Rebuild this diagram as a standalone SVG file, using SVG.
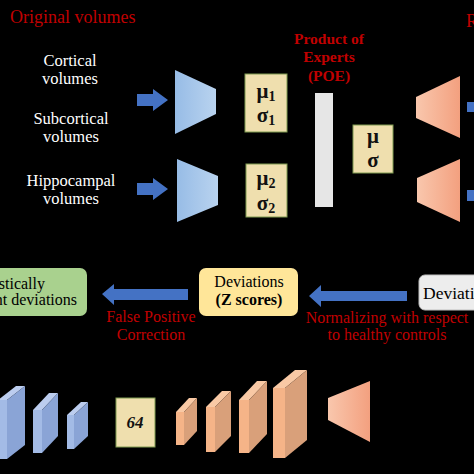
<svg xmlns="http://www.w3.org/2000/svg" width="474" height="474" viewBox="0 0 474 474">
<defs>
<linearGradient id="gBlue" x1="0" y1="0" x2="1" y2="0"><stop offset="0" stop-color="#97bce6"/><stop offset="1" stop-color="#b9d3ef"/></linearGradient>
<linearGradient id="gOr" x1="0" y1="0" x2="1" y2="0"><stop offset="0" stop-color="#f9c7ad"/><stop offset="1" stop-color="#f3a07f"/></linearGradient>
<style>
text{font-family:"Liberation Serif","Times New Roman",serif;}
.w{fill:#ffffff;font-size:16.5px;text-anchor:middle;}
.r{fill:#c00000;font-size:16px;text-anchor:middle;}
.rb{fill:#c00000;font-size:15.5px;font-weight:bold;text-anchor:middle;}
.k{fill:#000000;font-size:16px;text-anchor:middle;}
.mu{fill:#111111;font-size:21px;font-weight:bold;text-anchor:middle;}
.sub{font-size:14px;}
.box{fill:#efdfae;stroke:#7f9a50;stroke-width:1;}
.arr{fill:#4472c4;}
.bf{fill:#a3bbe6;}.bs{fill:#8aa4d6;}.bt{fill:#bccdef;}
.of{fill:#f5b488;}.os{fill:#d9a07a;}.ot{fill:#f9c9a5;}
</style>
</defs>
<rect x="0" y="0" width="474" height="474" fill="#000000"/>

<g id="labels">
<text x="10" y="23" fill="#c00000" style="font-size:18px">Original volumes</text>
<text x="466" y="27" fill="#c00000" style="font-size:18px">R</text>
</g>

<g id="cortical"><text class="w" x="70" y="66">Cortical</text><text class="w" x="70" y="84">volumes</text></g>
<g id="subcortical"><text class="w" x="71" y="124">Subcortical</text><text class="w" x="71" y="142">volumes</text></g>
<g id="hippocampal"><text class="w" x="71" y="186">Hippocampal</text><text class="w" x="71" y="204">volumes</text></g>

<g id="encoder1"><polygon points="175,70 216,89 216,114 175,134" fill="url(#gBlue)"/></g>
<g id="encoder2"><polygon points="177,159 218,176 218,205 177,222" fill="url(#gBlue)"/></g>

<g id="mu1"><rect class="box" x="245" y="74" width="42" height="58"/>
<text class="mu" x="266" y="98">μ<tspan class="sub" dy="3">1</tspan></text>
<text class="mu" x="266" y="122">σ<tspan class="sub" dy="3">1</tspan></text></g>
<g id="mu2"><rect class="box" x="246" y="164" width="41" height="53"/>
<text class="mu" x="266" y="185">μ<tspan class="sub" dy="3">2</tspan></text>
<text class="mu" x="266" y="210">σ<tspan class="sub" dy="3">2</tspan></text></g>

<g id="poe"><text class="rb" x="329" y="44">Product of</text><text class="rb" x="329" y="62">Experts</text><text class="rb" x="329" y="81">(POE)</text>
<rect x="315" y="93" width="18" height="114" fill="#e6e6e6"/></g>

<g id="mu"><rect class="box" x="353" y="125" width="40" height="48"/>
<text class="mu" x="373" y="143">μ</text><text class="mu" x="373" y="167">σ</text></g>

<g id="decoder1"><polygon points="416,97 460,76 460,138 416,118" fill="url(#gOr)"/></g>
<g id="decoder2"><polygon points="417,178 460,159 460,222 417,202" fill="url(#gOr)"/></g>

<g id="significant"><rect x="-20" y="268" width="107" height="48" rx="7" fill="#a9d18e"/>
<text x="45" y="289" style="fill:#000;font-size:16px;text-anchor:end">Statistically</text>
<text x="77" y="305" style="fill:#000;font-size:16px;text-anchor:end">significant deviations</text></g>

<g id="zscores"><rect x="199" y="268" width="99" height="48" rx="7" fill="#ffe699"/>
<text class="k" x="249" y="287">Deviations</text>
<text class="k" x="249" y="305" style="font-weight:bold">(Z scores)</text></g>

<g id="deviations"><rect x="419" y="275" width="70" height="35" rx="6" fill="#ededed" stroke="#bfbfbf" stroke-width="1"/>
<text x="423" y="299" style="fill:#000;font-size:17.5px">Deviations</text></g>

<g id="fpc"><text class="r" x="151" y="322">False Positive</text><text class="r" x="151" y="340">Correction</text></g>
<g id="norm"><text class="r" x="387" y="323">Normalizing with respect</text><text class="r" x="387" y="340">to healthy controls</text></g>

<g id="connectors">
<polygon class="arr" points="137,94 153,94 153,89 168,100 153,111 153,106 137,106"/>
<polygon class="arr" points="137,183 153,183 153,178 168,189 153,200 153,195 137,195"/>
<rect class="arr" x="467" y="102" width="7" height="10"/>
<rect class="arr" x="467" y="190" width="7" height="11"/>
<polygon class="arr" points="188,289 114,289 114,284 102,294 114,305 114,300 188,300"/>
<polygon class="arr" points="407,291 321,291 321,285 309,296 321,307 321,301 407,301"/>
</g>

<g id="blue-blocks">
<polygon class="bt" points="-2,400 16,386 25,386 7,400"/><polygon class="bs" points="7,400 25,386 25,445 7,459"/><rect class="bf" x="-2" y="400" width="9" height="59"/>
<polygon class="bt" points="33,410 49,393 58,393 42,410"/><polygon class="bs" points="42,410 58,393 58,436 42,453"/><rect class="bf" x="33" y="410" width="9" height="43"/>
<polygon class="bt" points="67,415 81,402 88,402 74,415"/><polygon class="bs" points="74,415 88,402 88,436 74,449"/><rect class="bf" x="67" y="415" width="7" height="34"/>
</g>

<g id="latent64"><rect class="box" x="116" y="398" width="39" height="49"/>
<text x="135" y="428" style="fill:#111;font-size:17px;font-weight:bold;font-style:italic;text-anchor:middle">64</text></g>

<g id="orange-blocks">
<polygon class="ot" points="176,412 189,398 197,398 184,412"/><polygon class="os" points="184,412 197,398 197,431 184,445"/><rect class="of" x="176" y="412" width="8" height="33"/>
<polygon class="ot" points="206,407 222,391 231,391 215,407"/><polygon class="os" points="215,407 231,391 231,436 215,452"/><rect class="of" x="206" y="407" width="9" height="45"/>
<polygon class="ot" points="239,400 257,381 267,381 249,400"/><polygon class="os" points="249,400 267,381 267,434 249,453"/><rect class="of" x="239" y="400" width="10" height="53"/>
<polygon class="ot" points="273,388 295,370 307,370 285,388"/><polygon class="os" points="285,388 307,370 307,440 285,458"/><rect class="of" x="273" y="388" width="12" height="70"/>
</g>

<g id="decoder3"><polygon points="328,398 370,381 370,442 328,420" fill="url(#gOr)"/></g>
</svg>
